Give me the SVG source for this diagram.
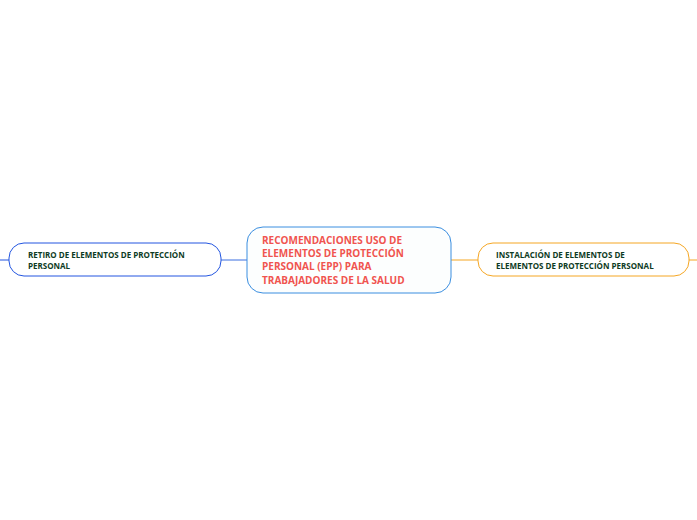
<svg xmlns="http://www.w3.org/2000/svg" width="697" height="520" viewBox="0 0 697 520">
<style>
.t{font-family:"Open Sans","Noto Sans",sans-serif;font-weight:bold}
.s{font-size:8px;fill:#0d3b24}
.c{font-size:10px;fill:#f0544f}
</style>
<rect width="697" height="520" fill="#fff"/>
<g id="connectors" fill="none" stroke-width="1">
<path d="M247 260 H221" stroke="#3b6fe0"/>
<path d="M9 260 H0" stroke="#2255e0"/>
<path d="M451 260 H478" stroke="#f5a623"/>
<path d="M689 260 H697" stroke="#f5a623"/>
</g>
<g id="center">
<rect x="247" y="227" width="204" height="66" rx="16" fill="#fcfefe" stroke="#3a8ee0"/>
<text class="t c" x="262" y="244">RECOMENDACIONES USO DE</text>
<text class="t c" x="262" y="257">ELEMENTOS DE PROTECCIÓN</text>
<text class="t c" x="262" y="270">PERSONAL (EPP) PARA</text>
<text class="t c" x="262" y="284">TRABAJADORES DE LA SALUD</text>
</g>
<g id="left">
<rect x="9" y="243" width="212" height="33" rx="15" fill="#fff" stroke="#2255e0"/>
<text class="t s" x="28" y="258">RETIRO DE ELEMENTOS DE PROTECCIÓN</text>
<text class="t s" x="28" y="269">PERSONAL</text>
</g>
<g id="right">
<rect x="478" y="243" width="211" height="33" rx="15" fill="#fff" stroke="#f5a623"/>
<text class="t s" x="496" y="258">INSTALACIÓN DE ELEMENTOS DE</text>
<text class="t s" x="496" y="269">ELEMENTOS DE PROTECCIÓN PERSONAL</text>
</g>
</svg>
